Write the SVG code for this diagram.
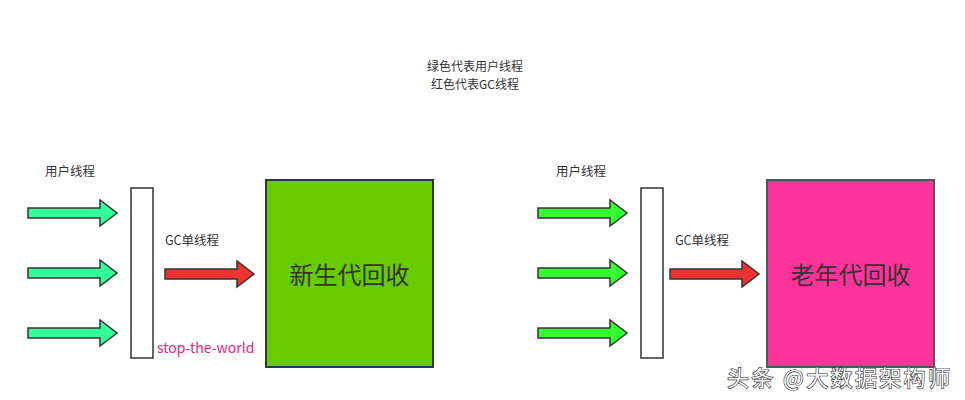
<svg xmlns="http://www.w3.org/2000/svg" width="965" height="400" viewBox="0 0 965 400">
<style>
text{font-family:"Noto Sans CJK SC","Liberation Sans",sans-serif;fill:#333}
.s{font-size:12.5px}
.l{font-size:12px}
.bar{fill:#fff;stroke:#333;stroke-width:1.5}
.ga{fill:#33ff99;stroke:#333;stroke-width:1.5}
.gb{fill:#33ff33;stroke:#333;stroke-width:1.5}
.ra{fill:#ee3333;stroke:#333;stroke-width:1.5}
</style>
<defs>
<path id="arr" d="M0,-5 H72 V-13 L89,0 L72,13 V5 H0 Z"/>
</defs>
<rect width="965" height="400" fill="#fff"/>
<g id="legend"><text class="l" x="475" y="71" text-anchor="middle">绿色代表用户线程</text><text class="l" x="475" y="89" text-anchor="middle">红色代表GC线程</text></g>
<g id="connectors">
<use href="#arr" class="ga" x="28" y="213"/><use href="#arr" class="ga" x="28" y="273"/><use href="#arr" class="ga" x="28" y="333"/>
<use href="#arr" class="ra" x="165" y="274"/>
<use href="#arr" class="gb" x="538" y="213"/><use href="#arr" class="gb" x="538" y="273"/><use href="#arr" class="gb" x="538" y="333"/>
<use href="#arr" class="ra" x="670" y="274"/>
</g>
<g id="left-labels"><text class="s" x="45" y="176">用户线程</text><text class="s" x="165" y="245">GC单线程</text><text x="157" y="353" font-size="14" style="fill:#e0287f">stop-the-world</text></g>
<g id="left-bar"><rect class="bar" x="131" y="188" width="22" height="170"/></g>
<g id="young"><rect x="266" y="180" width="167" height="187" fill="#66cc00" stroke="#333" stroke-width="2"/><text x="349.5" y="284" font-size="24" text-anchor="middle">新生代回收</text></g>
<g id="right-labels"><text class="s" x="556" y="176">用户线程</text><text class="s" x="675" y="245">GC单线程</text></g>
<g id="right-bar"><rect class="bar" x="641" y="188" width="22" height="170"/></g>
<g id="old"><rect x="767" y="180" width="167" height="187" fill="#ff3399" stroke="#555" stroke-width="2"/><text x="850.5" y="284" font-size="24" text-anchor="middle">老年代回收</text></g>
<g id="watermark"><text x="727" y="386" font-size="22" textLength="223" style="fill:#fff;stroke:#222;stroke-width:1.2;paint-order:stroke">头条 @大数据架构师</text></g>
</svg>
